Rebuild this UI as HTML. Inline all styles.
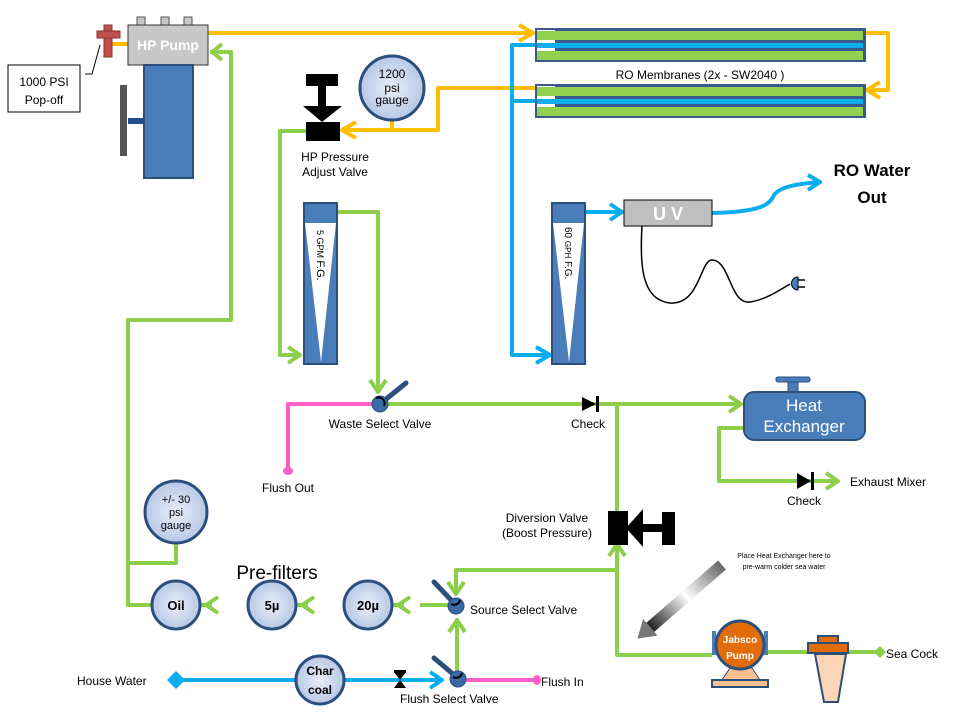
<!DOCTYPE html>
<html><head><meta charset="utf-8"><style>
html,body{margin:0;padding:0;background:#fff}
svg{display:block}
text{font-family:"Liberation Sans",sans-serif}
</style></head><body>
<svg width="960" height="720" viewBox="0 0 960 720" xmlns="http://www.w3.org/2000/svg">
<defs>
<radialGradient id="gg" cx="50%" cy="50%" r="50%"><stop offset="0" stop-color="#e8eef8"/><stop offset="1" stop-color="#b7c8e6"/></radialGradient>
<linearGradient id="ar" x1="0" y1="0" x2="1" y2="0"><stop offset="0" stop-color="#666"/><stop offset="0.5" stop-color="#fff"/><stop offset="1" stop-color="#222"/></linearGradient>
</defs>
<g fill="none" stroke-width="4" stroke-linejoin="round">
<!-- yellow -->
<g stroke="#ffbe00">
<path d="M112,44H128"/>
<path d="M208,33H533"/><path d="M519,25L533,33L519,41"/>
<path d="M865,33H888V90H867"/><path d="M880,82L867,90L880,98"/>
<path d="M535,88H438V130H342"/><path d="M356,122L342,130L356,138"/>
<path d="M392,118V130"/>
</g>
<!-- blue -->
<g stroke="#0aaeef">
<path d="M535,45H512V355H550"/><path d="M536,347L550,355L536,363"/>
<path d="M535,101H512"/>
<path d="M585,212H622"/><path d="M610,204L622,212L610,220"/>
<path d="M712,213C760,212 770,205 774,195C780,187 795,184 820,182"/><path d="M808,175L820,182L808,190"/>
<path d="M180,680H440"/><path d="M430,672L442,680L430,688"/>
</g>
<!-- pink -->
<g stroke="#ff5fc8">
<path d="M378,404H288V470"/>
<path d="M465,680H535"/>
</g>
<!-- green -->
<g stroke="#8ccf4a">
<path d="M210,52H231V320H128V605H152"/><path d="M222,44L212,52L222,60"/>
<path d="M128,563H176V543"/>
<path d="M200,605H212M248,605H260M296,605H308M344,605H356M392,605H404M420,605H448"/>
<path d="M218,597L206,605L218,613M314,597L302,605L314,613M410,597L398,605L410,613"/>
<path d="M306,131H280V355H300"/><path d="M288,347L300,355L288,363"/>
<path d="M337,212H378V390"/><path d="M370,380L378,392L386,380"/>
<path d="M385,404H741"/><path d="M729,396L741,404L729,412"/>
<path d="M617,404V655H712"/>
<path d="M609,556L617,544L625,556"/>
<path d="M617,570H456V592"/><path d="M448,582L456,594L464,582"/>
<path d="M457,672V620"/><path d="M449,632L457,620L465,632"/>
<path d="M745,428H719V481H838"/><path d="M826,473L838,481L826,489"/>
<path d="M768,652H810M848,652H880"/>
</g>
</g>
<!-- pink dots -->
<ellipse cx="288" cy="471" rx="5" ry="4" fill="#ff5fc8"/>
<ellipse cx="537" cy="680" rx="4" ry="5" fill="#ff5fc8"/>
<path d="M176,671L185,680L176,689L167,680Z" fill="#0aaeef"/>
<path d="M880,646L886,652L880,658L874,652Z" fill="#8ccf4a"/>

<!-- pop-off -->
<rect x="104" y="25" width="8" height="32" fill="#c0504d" stroke="#8c2f2c"/>
<rect x="97" y="31" width="23" height="7" fill="#c0504d" stroke="#8c2f2c"/>
<rect x="8" y="65" width="72" height="47" fill="#fff" stroke="#000"/>
<path d="M85,74H92L100,45" stroke="#000" fill="none"/>
<text x="44" y="86" font-size="12" text-anchor="middle">1000 PSI</text>
<text x="44" y="104" font-size="12" text-anchor="middle">Pop-off</text>
<!-- HP pump -->
<rect x="137" y="17" width="8" height="8" fill="#c8c8c8" stroke="#555"/>
<rect x="161" y="17" width="8" height="8" fill="#c8c8c8" stroke="#555"/>
<rect x="184" y="17" width="8" height="8" fill="#c8c8c8" stroke="#555"/>
<rect x="128" y="25" width="80" height="40" fill="#c8c8c8" stroke="#333"/>
<text x="168" y="50" font-size="14" font-weight="bold" fill="#fff" text-anchor="middle">HP Pump</text>
<rect x="144" y="65" width="49" height="113" fill="#4a7ebb" stroke="#2c4f7c" stroke-width="2"/>
<rect x="128" y="118" width="16" height="6" fill="#1f4e8c"/>
<rect x="120" y="85" width="7" height="71" fill="#555"/>
<!-- membranes -->
<g stroke="#3a5a8c" stroke-width="2">
<rect x="556" y="29" width="309" height="32" fill="#3a5a8c"/>
<rect x="556" y="85" width="309" height="32" fill="#3a5a8c"/>
</g>
<rect x="537" y="31" width="326" height="9" fill="#92d050"/>
<rect x="537" y="43" width="326" height="5" fill="#0aaeef"/>
<rect x="537" y="51" width="326" height="9" fill="#92d050"/>
<rect x="537" y="87" width="326" height="9" fill="#92d050"/>
<rect x="537" y="99" width="326" height="5" fill="#0aaeef"/>
<rect x="537" y="107" width="326" height="9" fill="#92d050"/>
<rect x="536" y="29" width="329" height="32" fill="none" stroke="#3a5a8c" stroke-width="2"/>
<rect x="536" y="85" width="329" height="32" fill="none" stroke="#3a5a8c" stroke-width="2"/>
<text x="700" y="79" font-size="12" text-anchor="middle">RO Membranes  (2x -  SW2040 )</text>
<!-- 1200 gauge -->
<circle cx="392" cy="88" r="32" fill="url(#gg)" stroke="#2c4f7c" stroke-width="3"/>
<text x="392" y="78" font-size="12" text-anchor="middle">1200</text>
<text x="392" y="92" font-size="12" text-anchor="middle">psi</text>
<text x="392" y="104" font-size="12" text-anchor="middle">gauge</text>
<!-- HP valve -->
<rect x="306" y="74" width="32" height="12" fill="#000"/>
<rect x="318" y="86" width="8" height="20" fill="#000"/>
<path d="M303,106H342L322,122Z" fill="#000"/>
<rect x="306" y="122" width="34" height="19" fill="#000"/>
<text x="335" y="161" font-size="12" text-anchor="middle">HP Pressure</text>
<text x="335" y="176" font-size="12" text-anchor="middle">Adjust Valve</text>
<!-- flow gauges -->
<rect x="304" y="203" width="33" height="161" fill="#4a7ebb" stroke="#2c4f7c" stroke-width="2"/>
<path d="M305,223H336L321,362Z" fill="#fff"/>
<text transform="translate(317,230) rotate(90)" font-size="9">5 GPM  <tspan font-size="11">F.G.</tspan></text>
<rect x="552" y="203" width="33" height="161" fill="#4a7ebb" stroke="#2c4f7c" stroke-width="2"/>
<path d="M553,223H584L569,362Z" fill="#fff"/>
<text transform="translate(565,227) rotate(90)" font-size="10">60 <tspan font-size="8">GPH</tspan>  F.G.</text>
<!-- UV -->
<rect x="624" y="200" width="88" height="26" fill="#bfbfbf" stroke="#000"/>
<text x="668" y="220" font-size="18" font-weight="bold" fill="#fff" text-anchor="middle">U V</text>
<path d="M642,226C640,260 640,300 670,303C700,305 700,260 712,260C730,260 730,305 750,302C765,300 780,290 790,284" fill="none" stroke="#000" stroke-width="1.5"/>
<path d="M798,277A6,6 0 0 0 798,290Z" fill="#4a7ebb" stroke="#000"/>
<path d="M798,280H805M798,287H805" stroke="#000" stroke-width="1.5"/>
<text x="872" y="176" font-size="17" font-weight="bold" text-anchor="middle">RO Water</text>
<text x="872" y="203" font-size="17" font-weight="bold" text-anchor="middle">Out</text>
<!-- waste select valve -->
<g>
<path d="M385,400L406,383" stroke="#2c4f7c" stroke-width="5" stroke-linecap="round"/>
<circle cx="380" cy="404" r="8" fill="#3a6aa8" stroke="#2c4f7c"/>
<path d="M376,398A6,6 0 0 1 384,406" stroke="#000" stroke-width="2" fill="none"/>
</g>
<text x="380" y="428" font-size="12" text-anchor="middle">Waste Select Valve</text>
<text x="288" y="492" font-size="12" text-anchor="middle">Flush Out</text>
<!-- check valves -->
<path d="M582,397V411L596,404Z" fill="#000"/><rect x="596" y="396" width="3" height="16" fill="#000"/>
<text x="588" y="428" font-size="12" text-anchor="middle">Check</text>
<path d="M797,473V489L811,481Z" fill="#000"/><rect x="811" y="472" width="3" height="18" fill="#000"/>
<text x="804" y="505" font-size="12" text-anchor="middle">Check</text>
<text x="850" y="486" font-size="12">Exhaust Mixer</text>
<!-- heat exchanger -->
<rect x="776" y="377" width="34" height="5" rx="2" fill="#4a7ebb" stroke="#2c4f7c"/>
<rect x="788" y="382" width="10" height="10" fill="#4a7ebb" stroke="#2c4f7c"/>
<rect x="744" y="392" width="121" height="48" rx="10" fill="#4a7ebb" stroke="#2c4f7c" stroke-width="2"/>
<text x="804" y="411" font-size="17" fill="#fff" text-anchor="middle">Heat</text>
<text x="804" y="432" font-size="17" fill="#fff" text-anchor="middle">Exchanger</text>
<!-- diversion valve -->
<rect x="608" y="511" width="20" height="34" fill="#000"/>
<path d="M626,528L643,509V547Z" fill="#000"/>
<rect x="643" y="524" width="14" height="8" fill="#000"/>
<rect x="662" y="512" width="13" height="33" fill="#000"/>
<rect x="655" y="524" width="8" height="8" fill="#000"/>
<text x="547" y="522" font-size="12" text-anchor="middle">Diversion Valve</text>
<text x="547" y="537" font-size="12" text-anchor="middle">(Boost Pressure)</text>
<!-- gradient arrow -->
<g transform="translate(722,565) rotate(139)">
<rect x="0" y="-6" width="95" height="12" fill="url(#ar)" transform="rotate(0)"/>
<path d="M95,-11L112,0L95,11Z" fill="#777"/>
</g>
<text x="784" y="558" font-size="7" text-anchor="middle">Place Heat Exchanger here to</text>
<text x="784" y="569" font-size="7" text-anchor="middle">pre-warm colder sea water</text>
<!-- jabsco -->
<path d="M722,680L730,668H752L760,680Z" fill="#fac090" stroke="#2c4f7c"/>
<rect x="712" y="680" width="56" height="7" fill="#fac090" stroke="#2c4f7c" stroke-width="2"/>
<rect x="712" y="631" width="4" height="24" fill="#4a7ebb"/><rect x="764" y="631" width="4" height="24" fill="#4a7ebb"/>
<circle cx="740" cy="645" r="24" fill="#e36c0a" stroke="#2c4f7c" stroke-width="3"/>
<text x="740" y="643" font-size="10" font-weight="bold" fill="#fff" text-anchor="middle">Jabsco</text>
<text x="740" y="659" font-size="10" font-weight="bold" fill="#fff" text-anchor="middle">Pump</text>
<!-- strainer -->
<path d="M815,654H846L838,702H824Z" fill="#fbd5b5" stroke="#2c4f7c" stroke-width="2"/>
<rect x="808" y="643" width="40" height="10" fill="#e36c0a" stroke="#2c4f7c" stroke-width="2"/>
<rect x="818" y="636" width="20" height="7" fill="#e36c0a" stroke="#2c4f7c" stroke-width="2"/>
<text x="886" y="658" font-size="12">Sea Cock</text>
<!-- gauge 30 -->
<circle cx="176" cy="512" r="31" fill="url(#gg)" stroke="#2c4f7c" stroke-width="3"/>
<text x="176" y="503" font-size="11" text-anchor="middle">+/- 30</text>
<text x="176" y="516" font-size="11" text-anchor="middle">psi</text>
<text x="176" y="529" font-size="11" text-anchor="middle">gauge</text>
<!-- filters -->
<g stroke="#2c4f7c" stroke-width="3" fill="url(#gg)">
<circle cx="176" cy="605" r="24"/><circle cx="272" cy="605" r="24"/><circle cx="368" cy="605" r="24"/><circle cx="320" cy="680" r="24"/>
</g>
<text x="176" y="610" font-size="13" font-weight="bold" text-anchor="middle">Oil</text>
<text x="272" y="610" font-size="13" font-weight="bold" text-anchor="middle">5µ</text>
<text x="368" y="610" font-size="13" font-weight="bold" text-anchor="middle">20µ</text>
<text x="320" y="675" font-size="12" font-weight="bold" text-anchor="middle">Char</text>
<text x="320" y="694" font-size="12" font-weight="bold" text-anchor="middle">coal</text>
<text x="277" y="579" font-size="19" text-anchor="middle">Pre-filters</text>
<text x="77" y="685" font-size="12">House Water</text>
<!-- small valve -->
<path d="M394,672H406L400,680Z M394,688H406L400,680Z" fill="#000"/>
<rect x="394" y="670" width="12" height="3" fill="#000"/>
<!-- source select & flush select -->
<g>
<path d="M452,601L434,582" stroke="#2c4f7c" stroke-width="5" stroke-linecap="round"/>
<circle cx="456" cy="606" r="8" fill="#3a6aa8" stroke="#2c4f7c"/>
<path d="M451,604A6,6 0 0 0 460,600" stroke="#000" stroke-width="2" fill="none"/>
<path d="M453,674L434,658" stroke="#2c4f7c" stroke-width="5" stroke-linecap="round"/>
<circle cx="458" cy="679" r="8" fill="#3a6aa8" stroke="#2c4f7c"/>
<path d="M453,677A6,6 0 0 0 462,673" stroke="#000" stroke-width="2" fill="none"/>
</g>
<text x="470" y="614" font-size="12">Source Select Valve</text>
<text x="400" y="703" font-size="12">Flush Select Valve</text>
<text x="541" y="686" font-size="12">Flush In</text>
</svg>
</body></html>
